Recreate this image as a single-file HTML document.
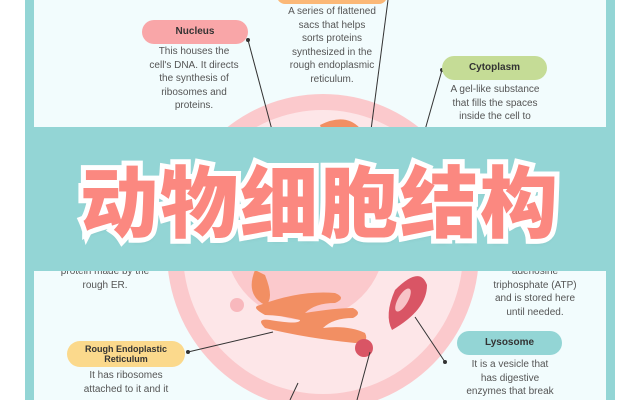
<!DOCTYPE html>
<html><head><meta charset="utf-8"><style>
body{margin:0;width:640px;height:400px;overflow:hidden;background:#fff;position:relative;font-family:"Liberation Sans",sans-serif}
.frame{position:absolute;left:25px;top:0;width:590px;height:400px;background:#93d5d5}
.inner{position:absolute;left:34px;top:0;width:572px;height:400px;background:#f2fcfd;overflow:hidden}
.pill{position:absolute;border-radius:14px;font-weight:bold;font-size:10px;color:#333;text-align:center;display:flex;align-items:center;justify-content:center;line-height:10px}
.txt{position:absolute;font-size:10px;color:#555;text-align:center;line-height:13.6px}
.banner{position:absolute;left:25px;top:127px;width:590px;height:144px;background:#93d5d5}
.title{position:absolute;left:0;top:143px;width:640px;text-align:center;font-family:"Noto Sans CJK SC",sans-serif;font-weight:900;font-size:78px;color:#fb8880;letter-spacing:2px;line-height:110px}
</style></head><body>
<div class="frame"></div>
<div class="inner"></div>
<svg style="position:absolute;left:0;top:0" width="640" height="400">
<ellipse cx="323" cy="252" rx="156" ry="158" fill="#fbc9cc"/>
<ellipse cx="323" cy="252" rx="140" ry="142" fill="#fde6e8"/>
<ellipse cx="305" cy="240" rx="80" ry="80" fill="#fbc9cc"/>
<path d="M320 125 q30 -15 45 10 q-20 -5 -40 5z" fill="#f28f63"/>
<path d="M255 270 q-10 25 10 35 q10 -5 0 -30z" fill="#f28f63"/>
<path d="M260 305 q40 -15 75 -12 q12 5 0 10 q-20 0 -30 10 q30 -5 48 -5 q10 5 0 10 q-20 0 -30 10 q25 -3 42 5 q5 10 -10 10 q-50 -5 -90 -15 q-10 -10 5 -8 q30 5 30 0 q-20 -5 -35 -5 q-15 -8 -5 -10z" fill="#f28f63"/>
<circle cx="237" cy="305" r="7" fill="#f8b8bd"/>
<path d="M395 290 q25 -25 32 -5 q0 25 -35 45 q-8 -15 3 -40z" fill="#d95565"/>
<ellipse cx="403" cy="300" rx="5" ry="13" transform="rotate(30 403 300)" fill="#f8c3c7"/>
<circle cx="364" cy="348" r="9" fill="#d95565"/>
<g stroke="#333" stroke-width="1" fill="none">
<line x1="248" y1="40" x2="272" y2="130"/>
<line x1="388" y1="0" x2="371" y2="130"/>
<line x1="442" y1="70" x2="425" y2="130"/>
<line x1="188" y1="352" x2="273" y2="332"/>
<line x1="415" y1="317" x2="445" y2="362"/>
<line x1="370" y1="352" x2="357" y2="400"/>
<line x1="298" y1="383" x2="290" y2="400"/>
</g>
<g fill="#333"><circle cx="248" cy="40" r="2"/><circle cx="442" cy="70" r="2"/><circle cx="188" cy="352" r="2"/><circle cx="445" cy="362" r="2"/></g>
</svg>
<div class="pill" style="left:277px;top:-12px;width:110px;height:16px;background:#fbb877"></div>
<div class="txt" style="left:287px;top:5px;width:90px">A series of flattened sacs that helps sorts proteins synthesized in the rough endoplasmic reticulum.</div>
<div class="pill" style="left:142px;top:20px;width:106px;height:24px;background:#f9a6a8">Nucleus</div>
<div class="txt" style="left:148px;top:45px;width:92px">This houses the cell's DNA. It directs the synthesis of ribosomes and proteins.</div>
<div class="pill" style="left:442px;top:56px;width:105px;height:24px;background:#c5dc96">Cytoplasm</div>
<div class="txt" style="left:446px;top:83px;width:98px">A gel-like substance that fills the spaces inside the cell to</div>
<div class="pill" style="left:67px;top:341px;width:118px;height:26px;background:#fbd98c;font-size:9px">Rough Endoplastic<br>Reticulum</div>
<div class="txt" style="left:76px;top:369px;width:100px">It has ribosomes attached to it and it</div>
<div class="txt" style="left:60px;top:265px;width:90px">protein made by the rough ER.</div>
<div class="txt" style="left:490px;top:265px;width:90px">adenosine triphosphate (ATP) and is stored here until needed.</div>
<div class="pill" style="left:457px;top:331px;width:105px;height:24px;background:#93d5d5">Lysosome</div>
<div class="txt" style="left:465px;top:358px;width:90px">It is a vesicle that has digestive enzymes that break</div>
<div class="banner"></div>
<div class="title" style="-webkit-text-stroke:10px #fff;color:#fff;text-shadow:0 3px 6px rgba(0,0,0,.15)">动物细胞结构</div>
<div class="title">动物细胞结构</div>
</body></html>
